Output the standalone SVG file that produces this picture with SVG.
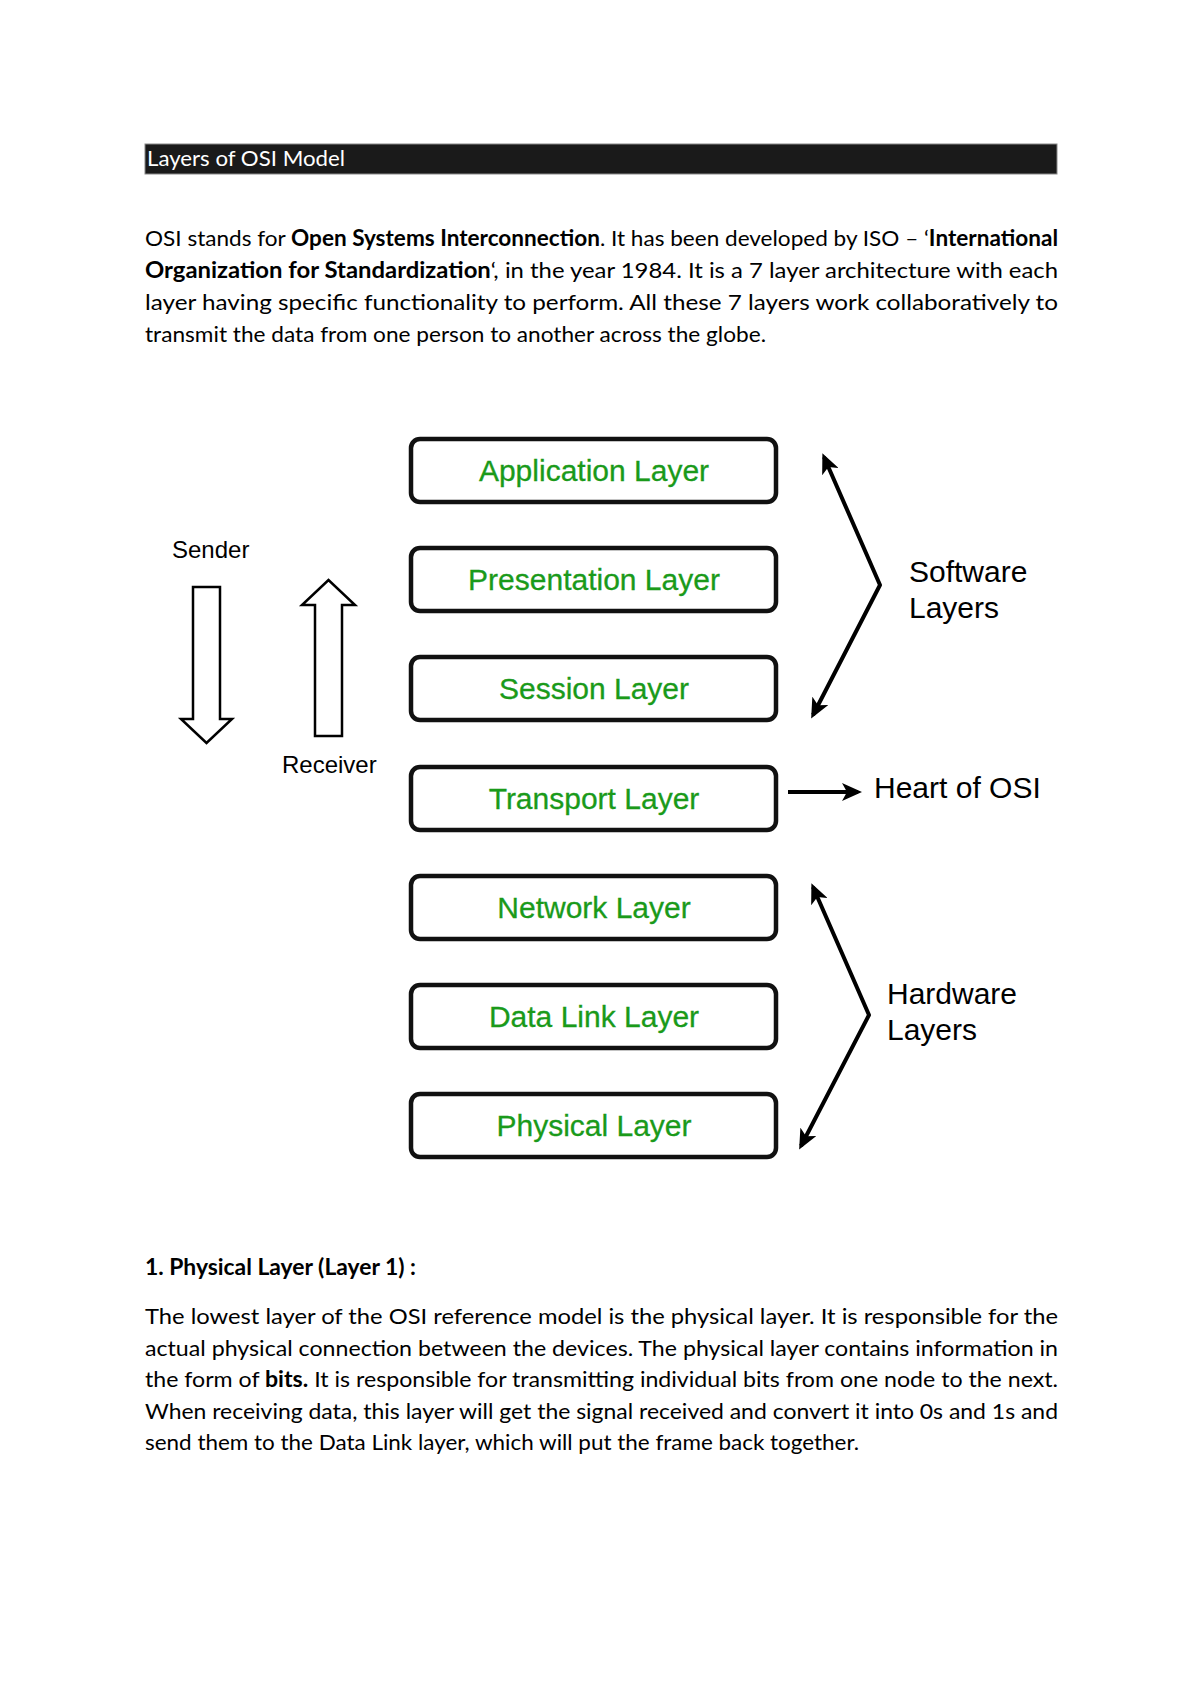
<svg xmlns="http://www.w3.org/2000/svg" width="1200" height="1698" viewBox="0 0 1200 1698">
<style>
.doc{font-family:Lato,"Liberation Sans",sans-serif;font-size:22px;fill:#000}
.b{font-weight:bold}
.box{fill:#fff;stroke:#111;stroke-width:4.5}
.lbl{font-family:"Liberation Sans",Arial,sans-serif;font-size:30px;fill:#1a9a1a;stroke:#1a9a1a;stroke-width:0.3;text-anchor:middle}
.note{font-family:"Liberation Sans",Arial,sans-serif;fill:#000}
.conn{fill:none;stroke:#000;stroke-width:4;stroke-linejoin:round}
.hollow{fill:#fff;stroke:#000;stroke-width:2.5}
</style>
<defs>
<marker id="ah" markerUnits="userSpaceOnUse" markerWidth="20" markerHeight="18" viewBox="0 0 20 18" refX="16" refY="9" orient="auto-start-reverse">
<path d="M0,0 L20,9 L0,18 L5,9 z" fill="#000"/>
</marker>
</defs>
<rect width="1200" height="1698" fill="#fff"/>

<g id="header">
<rect x="145" y="144" width="912" height="30" fill="#1a1a1a" stroke="#888" stroke-width="1"/>
<text x="147" y="166" class="doc" style="fill:#fff;font-size:21px" textLength="198" lengthAdjust="spacingAndGlyphs">Layers of OSI Model</text>
</g>

<g id="intro">
<text class="doc" x="145" y="246" textLength="913" lengthAdjust="spacingAndGlyphs">OSI stands for <tspan class="b">Open Systems Interconnection</tspan>. It has been developed by ISO – ‘<tspan class="b">International</tspan></text>
<text class="doc" x="145" y="278" textLength="913" lengthAdjust="spacingAndGlyphs"><tspan class="b">Organization for Standardization</tspan>‘, in the year 1984. It is a 7 layer architecture with each</text>
<text class="doc" x="145" y="310" textLength="913" lengthAdjust="spacingAndGlyphs">layer having specific functionality to perform. All these 7 layers work collaboratively to</text>
<text class="doc" x="145" y="342" textLength="621" lengthAdjust="spacingAndGlyphs">transmit the data from one person to another across the globe.</text>
</g>

<g id="application-layer"><rect class="box" x="411" y="439" width="365" height="63" rx="9"/><text class="lbl" x="594" y="481">Application Layer</text></g>
<g id="presentation-layer"><rect class="box" x="411" y="548" width="365" height="63" rx="9"/><text class="lbl" x="594" y="590">Presentation Layer</text></g>
<g id="session-layer"><rect class="box" x="411" y="657" width="365" height="63" rx="9"/><text class="lbl" x="594" y="699">Session Layer</text></g>
<g id="transport-layer"><rect class="box" x="411" y="767" width="365" height="63" rx="9"/><text class="lbl" x="594" y="809">Transport Layer</text></g>
<g id="network-layer"><rect class="box" x="411" y="876" width="365" height="63" rx="9"/><text class="lbl" x="594" y="918">Network Layer</text></g>
<g id="data-link-layer"><rect class="box" x="411" y="985" width="365" height="63" rx="9"/><text class="lbl" x="594" y="1027">Data Link Layer</text></g>
<g id="physical-layer"><rect class="box" x="411" y="1094" width="365" height="63" rx="9"/><text class="lbl" x="594" y="1136">Physical Layer</text></g>

<g id="sender"><text class="note" x="172" y="558" font-size="24">Sender</text>
<polygon class="hollow" points="193,587 220,587 220,719 232,719 206.5,743 181,719 193,719"/></g>
<g id="receiver"><text class="note" x="282" y="773" font-size="24">Receiver</text>
<polygon class="hollow" points="315,736 342,736 342,605 355,605 328.5,580 302,605 315,605"/></g>

<g id="software-label"><text class="note" x="909" y="582" font-size="30">Software</text><text class="note" x="909" y="618" font-size="30">Layers</text></g>
<g id="heart-label"><text class="note" x="874" y="798" font-size="30">Heart of OSI</text></g>
<g id="hardware-label"><text class="note" x="887" y="1004" font-size="30">Hardware</text><text class="note" x="887" y="1040" font-size="30">Layers</text></g>

<g id="connectors">
<polyline class="conn" points="824,457 880,585 813,715" marker-start="url(#ah)" marker-end="url(#ah)"/>
<polyline class="conn" points="813,887 869,1015 801,1146" marker-start="url(#ah)" marker-end="url(#ah)"/>
<line class="conn" x1="788" y1="792" x2="858" y2="792" stroke-width="3.5" marker-end="url(#ah)"/>
</g>

<g id="section1">
<text class="doc b" x="145" y="1275" textLength="271" lengthAdjust="spacingAndGlyphs">1. Physical Layer (Layer 1) :</text>
<text class="doc" x="145" y="1324" textLength="913" lengthAdjust="spacingAndGlyphs">The lowest layer of the OSI reference model is the physical layer. It is responsible for the</text>
<text class="doc" x="145" y="1355.5" textLength="913" lengthAdjust="spacingAndGlyphs">actual physical connection between the devices. The physical layer contains information in</text>
<text class="doc" x="145" y="1387" textLength="913" lengthAdjust="spacingAndGlyphs">the form of <tspan class="b">bits.</tspan> It is responsible for transmitting individual bits from one node to the next.</text>
<text class="doc" x="145" y="1418.5" textLength="913" lengthAdjust="spacingAndGlyphs">When receiving data, this layer will get the signal received and convert it into 0s and 1s and</text>
<text class="doc" x="145" y="1450" textLength="714" lengthAdjust="spacingAndGlyphs">send them to the Data Link layer, which will put the frame back together.</text>
</g>
</svg>
